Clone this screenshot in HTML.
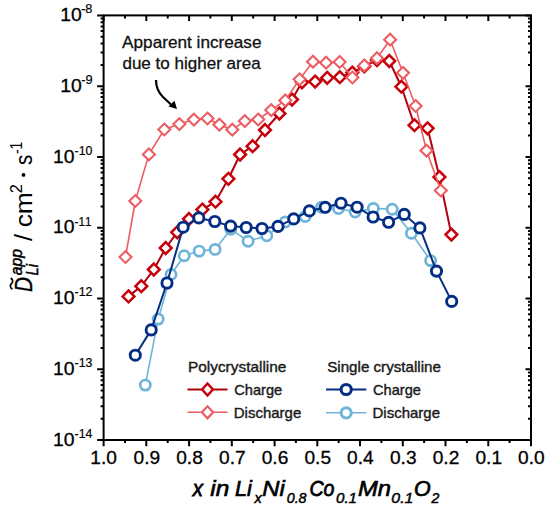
<!DOCTYPE html>
<html><head><meta charset="utf-8"><style>
html,body{margin:0;padding:0;background:#fff;width:550px;height:511px;overflow:hidden}
svg{display:block}
text{font-family:"Liberation Sans",sans-serif;font-kerning:none}
</style></head><body>
<svg width="550" height="511" viewBox="0 0 550 511">
<rect width="550" height="511" fill="#fff"/>
<polyline points="128.5,296.4 141.3,286.2 153.8,269.5 165.7,248.0 177.2,232.3 189.0,219.0 202.4,209.6 215.5,201.7 228.4,178.8 240.1,154.5 252.6,146.2 265.0,130.0 279.4,113.5 292.0,99.5 302.0,82.3 315.1,81.6 327.2,77.8 339.8,77.2 352.3,72.6 364.3,66.4 377.0,60.1 389.3,61.0 401.4,86.7 414.5,125.2 427.6,128.3 439.4,177.1 451.4,234.6" fill="none" stroke="#b2000e" stroke-width="2.0" stroke-linejoin="round"/><path d="M128.5 290.5L134.4 296.4L128.5 302.3L122.6 296.4Z" fill="#fff" stroke="#c8000a" stroke-width="2.5"/><path d="M141.3 280.3L147.2 286.2L141.3 292.1L135.4 286.2Z" fill="#fff" stroke="#c8000a" stroke-width="2.5"/><path d="M153.8 263.6L159.7 269.5L153.8 275.4L147.9 269.5Z" fill="#fff" stroke="#c8000a" stroke-width="2.5"/><path d="M165.7 242.1L171.6 248.0L165.7 253.9L159.8 248.0Z" fill="#fff" stroke="#c8000a" stroke-width="2.5"/><path d="M177.2 226.4L183.1 232.3L177.2 238.2L171.3 232.3Z" fill="#fff" stroke="#c8000a" stroke-width="2.5"/><path d="M189.0 213.1L194.9 219.0L189.0 224.9L183.1 219.0Z" fill="#fff" stroke="#c8000a" stroke-width="2.5"/><path d="M202.4 203.7L208.3 209.6L202.4 215.5L196.5 209.6Z" fill="#fff" stroke="#c8000a" stroke-width="2.5"/><path d="M215.5 195.8L221.4 201.7L215.5 207.6L209.6 201.7Z" fill="#fff" stroke="#c8000a" stroke-width="2.5"/><path d="M228.4 172.9L234.3 178.8L228.4 184.7L222.5 178.8Z" fill="#fff" stroke="#c8000a" stroke-width="2.5"/><path d="M240.1 148.6L246.0 154.5L240.1 160.4L234.2 154.5Z" fill="#fff" stroke="#c8000a" stroke-width="2.5"/><path d="M252.6 140.3L258.5 146.2L252.6 152.1L246.7 146.2Z" fill="#fff" stroke="#c8000a" stroke-width="2.5"/><path d="M265.0 124.1L270.9 130.0L265.0 135.9L259.1 130.0Z" fill="#fff" stroke="#c8000a" stroke-width="2.5"/><path d="M279.4 107.6L285.3 113.5L279.4 119.4L273.5 113.5Z" fill="#fff" stroke="#c8000a" stroke-width="2.5"/><path d="M292.0 93.6L297.9 99.5L292.0 105.4L286.1 99.5Z" fill="#fff" stroke="#c8000a" stroke-width="2.5"/><path d="M302.0 76.4L307.9 82.3L302.0 88.2L296.1 82.3Z" fill="#fff" stroke="#c8000a" stroke-width="2.5"/><path d="M315.1 75.7L321.0 81.6L315.1 87.5L309.2 81.6Z" fill="#fff" stroke="#c8000a" stroke-width="2.5"/><path d="M327.2 71.9L333.1 77.8L327.2 83.7L321.3 77.8Z" fill="#fff" stroke="#c8000a" stroke-width="2.5"/><path d="M339.8 71.3L345.7 77.2L339.8 83.1L333.9 77.2Z" fill="#fff" stroke="#c8000a" stroke-width="2.5"/><path d="M352.3 66.7L358.2 72.6L352.3 78.5L346.4 72.6Z" fill="#fff" stroke="#c8000a" stroke-width="2.5"/><path d="M364.3 60.5L370.2 66.4L364.3 72.3L358.4 66.4Z" fill="#fff" stroke="#c8000a" stroke-width="2.5"/><path d="M377.0 54.2L382.9 60.1L377.0 66.0L371.1 60.1Z" fill="#fff" stroke="#c8000a" stroke-width="2.5"/><path d="M389.3 55.1L395.2 61.0L389.3 66.9L383.4 61.0Z" fill="#fff" stroke="#c8000a" stroke-width="2.5"/><path d="M401.4 80.8L407.3 86.7L401.4 92.6L395.5 86.7Z" fill="#fff" stroke="#c8000a" stroke-width="2.5"/><path d="M414.5 119.3L420.4 125.2L414.5 131.1L408.6 125.2Z" fill="#fff" stroke="#c8000a" stroke-width="2.5"/><path d="M427.6 122.4L433.5 128.3L427.6 134.2L421.7 128.3Z" fill="#fff" stroke="#c8000a" stroke-width="2.5"/><path d="M439.4 171.2L445.3 177.1L439.4 183.0L433.5 177.1Z" fill="#fff" stroke="#c8000a" stroke-width="2.5"/><path d="M451.4 228.7L457.3 234.6L451.4 240.5L445.5 234.6Z" fill="#fff" stroke="#c8000a" stroke-width="2.5"/><polyline points="125.5,257.0 135.3,201.0 148.9,154.4 164.3,129.5 179.4,124.1 193.9,119.6 207.5,118.5 219.4,124.7 232.3,129.7 244.8,121.1 258.2,119.5 271.3,110.1 285.3,100.4 299.6,79.3 313.0,61.7 326.1,62.7 339.6,62.0 352.4,77.5 364.3,65.4 377.0,58.2 390.1,39.7 403.0,72.8 415.6,106.0 426.5,150.6 440.8,190.5" fill="none" stroke="#ec5c62" stroke-width="1.6" stroke-linejoin="round"/><path d="M125.5 251.1L131.5 257.0L125.5 262.9L119.5 257.0Z" fill="#fff" stroke="#ec5c62" stroke-width="2.1"/><path d="M135.3 195.1L141.3 201.0L135.3 206.9L129.3 201.0Z" fill="#fff" stroke="#ec5c62" stroke-width="2.1"/><path d="M148.9 148.5L154.9 154.4L148.9 160.3L142.9 154.4Z" fill="#fff" stroke="#ec5c62" stroke-width="2.1"/><path d="M164.3 123.6L170.3 129.5L164.3 135.4L158.3 129.5Z" fill="#fff" stroke="#ec5c62" stroke-width="2.1"/><path d="M179.4 118.2L185.4 124.1L179.4 130.0L173.4 124.1Z" fill="#fff" stroke="#ec5c62" stroke-width="2.1"/><path d="M193.9 113.7L199.9 119.6L193.9 125.5L187.9 119.6Z" fill="#fff" stroke="#ec5c62" stroke-width="2.1"/><path d="M207.5 112.6L213.5 118.5L207.5 124.4L201.5 118.5Z" fill="#fff" stroke="#ec5c62" stroke-width="2.1"/><path d="M219.4 118.8L225.4 124.7L219.4 130.6L213.4 124.7Z" fill="#fff" stroke="#ec5c62" stroke-width="2.1"/><path d="M232.3 123.8L238.3 129.7L232.3 135.6L226.3 129.7Z" fill="#fff" stroke="#ec5c62" stroke-width="2.1"/><path d="M244.8 115.2L250.8 121.1L244.8 127.0L238.8 121.1Z" fill="#fff" stroke="#ec5c62" stroke-width="2.1"/><path d="M258.2 113.6L264.2 119.5L258.2 125.4L252.2 119.5Z" fill="#fff" stroke="#ec5c62" stroke-width="2.1"/><path d="M271.3 104.2L277.3 110.1L271.3 116.0L265.3 110.1Z" fill="#fff" stroke="#ec5c62" stroke-width="2.1"/><path d="M285.3 94.5L291.3 100.4L285.3 106.3L279.3 100.4Z" fill="#fff" stroke="#ec5c62" stroke-width="2.1"/><path d="M299.6 73.4L305.6 79.3L299.6 85.2L293.6 79.3Z" fill="#fff" stroke="#ec5c62" stroke-width="2.1"/><path d="M313.0 55.8L319.0 61.7L313.0 67.6L307.0 61.7Z" fill="#fff" stroke="#ec5c62" stroke-width="2.1"/><path d="M326.1 56.8L332.1 62.7L326.1 68.6L320.1 62.7Z" fill="#fff" stroke="#ec5c62" stroke-width="2.1"/><path d="M339.6 56.1L345.6 62.0L339.6 67.9L333.6 62.0Z" fill="#fff" stroke="#ec5c62" stroke-width="2.1"/><path d="M352.4 71.6L358.4 77.5L352.4 83.4L346.4 77.5Z" fill="#fff" stroke="#ec5c62" stroke-width="2.1"/><path d="M364.3 59.5L370.3 65.4L364.3 71.3L358.3 65.4Z" fill="#fff" stroke="#ec5c62" stroke-width="2.1"/><path d="M377.0 52.3L383.0 58.2L377.0 64.1L371.0 58.2Z" fill="#fff" stroke="#ec5c62" stroke-width="2.1"/><path d="M390.1 33.8L396.1 39.7L390.1 45.6L384.1 39.7Z" fill="#fff" stroke="#ec5c62" stroke-width="2.1"/><path d="M403.0 66.9L409.0 72.8L403.0 78.7L397.0 72.8Z" fill="#fff" stroke="#ec5c62" stroke-width="2.1"/><path d="M415.6 100.1L421.6 106.0L415.6 111.9L409.6 106.0Z" fill="#fff" stroke="#ec5c62" stroke-width="2.1"/><path d="M426.5 144.7L432.5 150.6L426.5 156.5L420.5 150.6Z" fill="#fff" stroke="#ec5c62" stroke-width="2.1"/><path d="M440.8 184.6L446.8 190.5L440.8 196.4L434.8 190.5Z" fill="#fff" stroke="#ec5c62" stroke-width="2.1"/><polyline points="145.3,385.1 158.2,319.1 171.0,274.5 184.2,255.7 199.2,251.1 215.1,249.4 230.8,229.2 248.1,241.2 266.8,235.8 285.3,221.9 305.2,216.5 321.5,207.2 338.5,208.5 355.1,212.0 373.3,208.4 392.2,209.3 411.4,233.3 430.6,260.6" fill="none" stroke="#6eb4d9" stroke-width="1.6" stroke-linejoin="round"/><circle cx="145.3" cy="385.1" r="5.1" fill="#fff" stroke="#6eb4d9" stroke-width="2.7"/><circle cx="158.2" cy="319.1" r="5.1" fill="#fff" stroke="#6eb4d9" stroke-width="2.7"/><circle cx="171.0" cy="274.5" r="5.1" fill="#fff" stroke="#6eb4d9" stroke-width="2.7"/><circle cx="184.2" cy="255.7" r="5.1" fill="#fff" stroke="#6eb4d9" stroke-width="2.7"/><circle cx="199.2" cy="251.1" r="5.1" fill="#fff" stroke="#6eb4d9" stroke-width="2.7"/><circle cx="215.1" cy="249.4" r="5.1" fill="#fff" stroke="#6eb4d9" stroke-width="2.7"/><circle cx="230.8" cy="229.2" r="5.1" fill="#fff" stroke="#6eb4d9" stroke-width="2.7"/><circle cx="248.1" cy="241.2" r="5.1" fill="#fff" stroke="#6eb4d9" stroke-width="2.7"/><circle cx="266.8" cy="235.8" r="5.1" fill="#fff" stroke="#6eb4d9" stroke-width="2.7"/><circle cx="285.3" cy="221.9" r="5.1" fill="#fff" stroke="#6eb4d9" stroke-width="2.7"/><circle cx="305.2" cy="216.5" r="5.1" fill="#fff" stroke="#6eb4d9" stroke-width="2.7"/><circle cx="321.5" cy="207.2" r="5.1" fill="#fff" stroke="#6eb4d9" stroke-width="2.7"/><circle cx="338.5" cy="208.5" r="5.1" fill="#fff" stroke="#6eb4d9" stroke-width="2.7"/><circle cx="355.1" cy="212.0" r="5.1" fill="#fff" stroke="#6eb4d9" stroke-width="2.7"/><circle cx="373.3" cy="208.4" r="5.1" fill="#fff" stroke="#6eb4d9" stroke-width="2.7"/><circle cx="392.2" cy="209.3" r="5.1" fill="#fff" stroke="#6eb4d9" stroke-width="2.7"/><circle cx="411.4" cy="233.3" r="5.1" fill="#fff" stroke="#6eb4d9" stroke-width="2.7"/><circle cx="430.6" cy="260.6" r="5.1" fill="#fff" stroke="#6eb4d9" stroke-width="2.7"/><polyline points="135.3,355.2 151.2,329.9 167.0,283.0 183.2,227.2 198.8,217.9 214.8,221.5 230.6,226.1 246.2,227.5 262.0,228.5 278.0,226.4 293.7,218.9 309.4,210.9 325.2,207.3 341.0,203.2 357.1,207.2 373.1,217.0 388.6,222.3 404.3,214.4 419.9,227.9 436.5,271.1 451.7,301.4" fill="none" stroke="#042d84" stroke-width="2.0" stroke-linejoin="round"/><circle cx="135.3" cy="355.2" r="5.1" fill="#fff" stroke="#042d84" stroke-width="2.9"/><circle cx="151.2" cy="329.9" r="5.1" fill="#fff" stroke="#042d84" stroke-width="2.9"/><circle cx="167.0" cy="283.0" r="5.1" fill="#fff" stroke="#042d84" stroke-width="2.9"/><circle cx="183.2" cy="227.2" r="5.1" fill="#fff" stroke="#042d84" stroke-width="2.9"/><circle cx="198.8" cy="217.9" r="5.1" fill="#fff" stroke="#042d84" stroke-width="2.9"/><circle cx="214.8" cy="221.5" r="5.1" fill="#fff" stroke="#042d84" stroke-width="2.9"/><circle cx="230.6" cy="226.1" r="5.1" fill="#fff" stroke="#042d84" stroke-width="2.9"/><circle cx="246.2" cy="227.5" r="5.1" fill="#fff" stroke="#042d84" stroke-width="2.9"/><circle cx="262.0" cy="228.5" r="5.1" fill="#fff" stroke="#042d84" stroke-width="2.9"/><circle cx="278.0" cy="226.4" r="5.1" fill="#fff" stroke="#042d84" stroke-width="2.9"/><circle cx="293.7" cy="218.9" r="5.1" fill="#fff" stroke="#042d84" stroke-width="2.9"/><circle cx="309.4" cy="210.9" r="5.1" fill="#fff" stroke="#042d84" stroke-width="2.9"/><circle cx="325.2" cy="207.3" r="5.1" fill="#fff" stroke="#042d84" stroke-width="2.9"/><circle cx="341.0" cy="203.2" r="5.1" fill="#fff" stroke="#042d84" stroke-width="2.9"/><circle cx="357.1" cy="207.2" r="5.1" fill="#fff" stroke="#042d84" stroke-width="2.9"/><circle cx="373.1" cy="217.0" r="5.1" fill="#fff" stroke="#042d84" stroke-width="2.9"/><circle cx="388.6" cy="222.3" r="5.1" fill="#fff" stroke="#042d84" stroke-width="2.9"/><circle cx="404.3" cy="214.4" r="5.1" fill="#fff" stroke="#042d84" stroke-width="2.9"/><circle cx="419.9" cy="227.9" r="5.1" fill="#fff" stroke="#042d84" stroke-width="2.9"/><circle cx="436.5" cy="271.1" r="5.1" fill="#fff" stroke="#042d84" stroke-width="2.9"/><circle cx="451.7" cy="301.4" r="5.1" fill="#fff" stroke="#042d84" stroke-width="2.9"/>
<rect x="103.6" y="15.4" width="427.4" height="424.6" fill="none" stroke="#000" stroke-width="2.0"/>
<path d="M97.1 440.0H103.6M531.0 440.0H525.5M100.6 418.7H103.6M531.0 418.7H528.0M100.6 406.2H103.6M531.0 406.2H528.0M100.6 397.4H103.6M531.0 397.4H528.0M100.6 390.5H103.6M531.0 390.5H528.0M100.6 384.9H103.6M531.0 384.9H528.0M100.6 380.2H103.6M531.0 380.2H528.0M100.6 376.1H103.6M531.0 376.1H528.0M100.6 372.5H103.6M531.0 372.5H528.0M97.1 369.2H103.6M531.0 369.2H525.5M100.6 347.9H103.6M531.0 347.9H528.0M100.6 335.5H103.6M531.0 335.5H528.0M100.6 326.6H103.6M531.0 326.6H528.0M100.6 319.8H103.6M531.0 319.8H528.0M100.6 314.2H103.6M531.0 314.2H528.0M100.6 309.4H103.6M531.0 309.4H528.0M100.6 305.3H103.6M531.0 305.3H528.0M100.6 301.7H103.6M531.0 301.7H528.0M97.1 298.5H103.6M531.0 298.5H525.5M100.6 277.2H103.6M531.0 277.2H528.0M100.6 264.7H103.6M531.0 264.7H528.0M100.6 255.9H103.6M531.0 255.9H528.0M100.6 249.0H103.6M531.0 249.0H528.0M100.6 243.4H103.6M531.0 243.4H528.0M100.6 238.7H103.6M531.0 238.7H528.0M100.6 234.6H103.6M531.0 234.6H528.0M100.6 230.9H103.6M531.0 230.9H528.0M97.1 227.7H103.6M531.0 227.7H525.5M100.6 206.4H103.6M531.0 206.4H528.0M100.6 193.9H103.6M531.0 193.9H528.0M100.6 185.1H103.6M531.0 185.1H528.0M100.6 178.2H103.6M531.0 178.2H528.0M100.6 172.6H103.6M531.0 172.6H528.0M100.6 167.9H103.6M531.0 167.9H528.0M100.6 163.8H103.6M531.0 163.8H528.0M100.6 160.2H103.6M531.0 160.2H528.0M97.1 156.9H103.6M531.0 156.9H525.5M100.6 135.6H103.6M531.0 135.6H528.0M100.6 123.2H103.6M531.0 123.2H528.0M100.6 114.3H103.6M531.0 114.3H528.0M100.6 107.5H103.6M531.0 107.5H528.0M100.6 101.9H103.6M531.0 101.9H528.0M100.6 97.1H103.6M531.0 97.1H528.0M100.6 93.0H103.6M531.0 93.0H528.0M100.6 89.4H103.6M531.0 89.4H528.0M97.1 86.2H103.6M531.0 86.2H525.5M100.6 64.9H103.6M531.0 64.9H528.0M100.6 52.4H103.6M531.0 52.4H528.0M100.6 43.6H103.6M531.0 43.6H528.0M100.6 36.7H103.6M531.0 36.7H528.0M100.6 31.1H103.6M531.0 31.1H528.0M100.6 26.4H103.6M531.0 26.4H528.0M100.6 22.3H103.6M531.0 22.3H528.0M100.6 18.6H103.6M531.0 18.6H528.0M97.1 15.4H103.6M531.0 15.4H525.5M531.0 440.0V446.2M531.0 15.4V20.9M509.6 440.0V443.0M509.6 15.4V18.4M488.3 440.0V446.2M488.3 15.4V20.9M466.9 440.0V443.0M466.9 15.4V18.4M445.5 440.0V446.2M445.5 15.4V20.9M424.1 440.0V443.0M424.1 15.4V18.4M402.8 440.0V446.2M402.8 15.4V20.9M381.4 440.0V443.0M381.4 15.4V18.4M360.0 440.0V446.2M360.0 15.4V20.9M338.7 440.0V443.0M338.7 15.4V18.4M317.3 440.0V446.2M317.3 15.4V20.9M295.9 440.0V443.0M295.9 15.4V18.4M274.6 440.0V446.2M274.6 15.4V20.9M253.2 440.0V443.0M253.2 15.4V18.4M231.8 440.0V446.2M231.8 15.4V20.9M210.4 440.0V443.0M210.4 15.4V18.4M189.1 440.0V446.2M189.1 15.4V20.9M167.7 440.0V443.0M167.7 15.4V18.4M146.3 440.0V446.2M146.3 15.4V20.9M125.0 440.0V443.0M125.0 15.4V18.4M103.6 440.0V446.2M103.6 15.4V20.9" stroke="#000" stroke-width="2.0" fill="none"/>
<text transform="translate(53.08 445.60) scale(1.0296 1.0)" style="font-size:18.8px;stroke:#000;stroke-width:0.29px;" fill="#000">10</text><text transform="translate(74.56 438.00) scale(1.0040 1.0)" style="font-size:12.2px;stroke:#000;stroke-width:0.20px;" fill="#000">-14</text><text transform="translate(53.08 374.83) scale(1.0296 1.0)" style="font-size:18.8px;stroke:#000;stroke-width:0.29px;" fill="#000">10</text><text transform="translate(74.55 367.23) scale(1.0148 1.0)" style="font-size:12.2px;stroke:#000;stroke-width:0.20px;" fill="#000">-13</text><text transform="translate(53.08 304.07) scale(1.0296 1.0)" style="font-size:18.8px;stroke:#000;stroke-width:0.29px;" fill="#000">10</text><text transform="translate(74.55 296.47) scale(1.0196 1.0)" style="font-size:12.2px;stroke:#000;stroke-width:0.20px;" fill="#000">-12</text><text transform="translate(53.08 233.30) scale(1.0296 1.0)" style="font-size:18.8px;stroke:#000;stroke-width:0.29px;" fill="#000">10</text><text transform="translate(74.58 225.70) scale(0.9518 1.0)" style="font-size:12.2px;stroke:#000;stroke-width:0.21px;" fill="#000">-11</text><text transform="translate(53.08 162.53) scale(1.0296 1.0)" style="font-size:18.8px;stroke:#000;stroke-width:0.29px;" fill="#000">10</text><text transform="translate(74.55 154.93) scale(1.0112 1.0)" style="font-size:12.2px;stroke:#000;stroke-width:0.20px;" fill="#000">-10</text><text transform="translate(60.18 91.77) scale(1.0296 1.0)" style="font-size:18.8px;stroke:#000;stroke-width:0.29px;" fill="#000">10</text><text transform="translate(81.13 84.17) scale(1.0485 1.0)" style="font-size:12.2px;stroke:#000;stroke-width:0.19px;" fill="#000">-9</text><text transform="translate(60.18 21.00) scale(1.0296 1.0)" style="font-size:18.8px;stroke:#000;stroke-width:0.29px;" fill="#000">10</text><text transform="translate(81.13 13.40) scale(1.0434 1.0)" style="font-size:12.2px;stroke:#000;stroke-width:0.19px;" fill="#000">-8</text><text transform="translate(518.09 464.00) scale(1.0080 1.0)" style="font-size:19px;stroke:#000;stroke-width:0.30px;" fill="#000">0.0</text><text transform="translate(475.44 464.00) scale(1.0079 1.0)" style="font-size:19px;stroke:#000;stroke-width:0.30px;" fill="#000">0.1</text><text transform="translate(432.72 464.00) scale(1.0079 1.0)" style="font-size:19px;stroke:#000;stroke-width:0.30px;" fill="#000">0.2</text><text transform="translate(389.92 464.00) scale(1.0079 1.0)" style="font-size:19px;stroke:#000;stroke-width:0.30px;" fill="#000">0.3</text><text transform="translate(347.03 464.00) scale(1.0081 1.0)" style="font-size:19px;stroke:#000;stroke-width:0.30px;" fill="#000">0.4</text><text transform="translate(304.42 464.00) scale(1.0079 1.0)" style="font-size:19px;stroke:#000;stroke-width:0.30px;" fill="#000">0.5</text><text transform="translate(261.70 464.00) scale(1.0079 1.0)" style="font-size:19px;stroke:#000;stroke-width:0.30px;" fill="#000">0.6</text><text transform="translate(219.02 464.00) scale(1.0079 1.0)" style="font-size:19px;stroke:#000;stroke-width:0.30px;" fill="#000">0.7</text><text transform="translate(176.21 464.00) scale(1.0079 1.0)" style="font-size:19px;stroke:#000;stroke-width:0.30px;" fill="#000">0.8</text><text transform="translate(133.51 464.00) scale(1.0079 1.0)" style="font-size:19px;stroke:#000;stroke-width:0.30px;" fill="#000">0.9</text><text transform="translate(90.34 464.00) scale(1.0076 1.0)" style="font-size:19px;stroke:#000;stroke-width:0.30px;" fill="#000">1.0</text>
<text transform="translate(122.12 47.80) scale(1.0544 1.0)" style="font-size:16.3px;stroke:#111;stroke-width:0.28px;" fill="#111">Apparent increase</text><text transform="translate(122.43 68.90) scale(1.0461 1.0)" style="font-size:16.3px;stroke:#111;stroke-width:0.29px;" fill="#111">due to higher area</text><path d="M156 80 C156 88 158.5 92.5 163 97 L171 104.5" fill="none" stroke="#000" stroke-width="2.2"/><path d="M177 109 L168.5 106.5 L174.5 100.8 Z" fill="#000"/>
<text transform="translate(187.94 372.00) scale(1.1014 1.0)" style="font-size:14px;stroke:#1a1a1a;stroke-width:0.36px;" fill="#1a1a1a">Polycrystalline</text><text transform="translate(327.21 372.00) scale(1.0839 1.0)" style="font-size:14px;stroke:#1a1a1a;stroke-width:0.37px;" fill="#1a1a1a">Single crystalline</text><path d="M187.5 389.5H227.5" stroke="#b2000e" stroke-width="2"/><path d="M207.5 383.5L212.9 389.5L207.5 395.5L202.1 389.5Z" fill="#fff" stroke="#c8000a" stroke-width="2.5"/><path d="M187.5 412.3H227.5" stroke="#ec5c62" stroke-width="1.6"/><path d="M207.5 406.3L213.1 412.3L207.5 418.3L201.9 412.3Z" fill="#fff" stroke="#ec5c62" stroke-width="2.2"/><path d="M326 389.5H366.3" stroke="#042d84" stroke-width="2"/><circle cx="346.2" cy="389.5" r="5.1" fill="#fff" stroke="#042d84" stroke-width="3.0"/><path d="M326 412.8H366.3" stroke="#6eb4d9" stroke-width="1.6"/><circle cx="346.2" cy="412.8" r="5.1" fill="#fff" stroke="#6eb4d9" stroke-width="3.0"/><text transform="translate(234.26 394.70) scale(1.0452 1.0)" style="font-size:14px;stroke:#1a1a1a;stroke-width:0.38px;" fill="#1a1a1a">Charge</text><text transform="translate(233.77 417.50) scale(1.0725 1.0)" style="font-size:14px;stroke:#1a1a1a;stroke-width:0.37px;" fill="#1a1a1a">Discharge</text><text transform="translate(372.96 394.70) scale(1.0452 1.0)" style="font-size:14px;stroke:#1a1a1a;stroke-width:0.38px;" fill="#1a1a1a">Charge</text><text transform="translate(372.47 417.50) scale(1.0725 1.0)" style="font-size:14px;stroke:#1a1a1a;stroke-width:0.37px;" fill="#1a1a1a">Discharge</text>
<text transform="translate(192.77 496.10) scale(0.9261 1.0)" style="font-size:22px;font-style:italic;stroke:#000;stroke-width:0.76px;" fill="#000">x</text><text transform="translate(210.36 496.10) scale(1.1097 1.0)" style="font-size:22px;font-style:italic;stroke:#000;stroke-width:0.63px;" fill="#000">in</text><text transform="translate(234.88 496.10) scale(0.9858 1.0)" style="font-size:22px;font-style:italic;stroke:#000;stroke-width:0.71px;" fill="#000">Li</text><text transform="translate(254.43 502.60) scale(1.0413 1.0)" style="font-size:14px;font-style:italic;stroke:#000;stroke-width:0.48px;" fill="#000">x</text><text transform="translate(262.22 496.10) scale(1.0829 1.0)" style="font-size:22px;font-style:italic;stroke:#000;stroke-width:0.65px;" fill="#000">Ni</text><text transform="translate(286.73 502.60) scale(1.0175 1.0)" style="font-size:14px;font-style:italic;stroke:#000;stroke-width:0.49px;" fill="#000">0.8</text><text transform="translate(309.47 496.10) scale(0.8889 1.0)" style="font-size:22px;font-style:italic;stroke:#000;stroke-width:0.79px;" fill="#000">Co</text><text transform="translate(335.99 502.60) scale(1.0809 1.0)" style="font-size:14px;font-style:italic;stroke:#000;stroke-width:0.46px;" fill="#000">0.1</text><text transform="translate(357.92 496.10) scale(1.0801 1.0)" style="font-size:22px;font-style:italic;stroke:#000;stroke-width:0.65px;" fill="#000">Mn</text><text transform="translate(391.36 502.60) scale(1.1318 1.0)" style="font-size:14px;font-style:italic;stroke:#000;stroke-width:0.44px;" fill="#000">0.1</text><text transform="translate(413.89 496.10) scale(0.9734 1.0)" style="font-size:22px;font-style:italic;stroke:#000;stroke-width:0.72px;" fill="#000">O</text><text transform="translate(431.43 502.60) scale(1.0048 1.0)" style="font-size:14px;font-style:italic;stroke:#000;stroke-width:0.50px;" fill="#000">2</text>
<g transform="translate(32 292) rotate(-90)"><text transform="translate(-0.06 0.00) scale(0.8812 1.0)" style="font-size:23.5px;font-style:italic;stroke:#000;stroke-width:0.40px;" fill="#000">D</text><text transform="translate(16.67 -9.80) scale(0.9463 1.0)" style="font-size:16.6px;font-style:italic;stroke:#000;stroke-width:0.48px;" fill="#000">app</text><text transform="translate(16.58 6.30) scale(0.8963 1.0)" style="font-size:16.3px;font-style:italic;stroke:#000;stroke-width:0.50px;" fill="#000">Li</text><text transform="translate(51.00 0.00) scale(1.0498 1.0)" style="font-size:24px;" fill="#000">/</text><text transform="translate(64.68 0.00) scale(1.0990 1.0)" style="font-size:24px;" fill="#000">cm</text><text transform="translate(98.67 -9.80) scale(1.0100 1.0)" style="font-size:16.3px;" fill="#000">2</text><circle cx="117.1" cy="-8.5" r="1.9" fill="#000"/><text transform="translate(126.93 0.00) scale(0.8600 1.0)" style="font-size:24px;" fill="#000">s</text><text transform="translate(137.89 -9.80) scale(0.8479 1.0)" style="font-size:16.3px;" fill="#000">-1</text><path d="M2.8 -19.6 C4.6 -22.2 7 -22.2 8.5 -20.4 C10 -18.8 12 -18.8 14 -21.2" fill="none" stroke="#000" stroke-width="1.7"/></g>
</svg>
</body></html>
